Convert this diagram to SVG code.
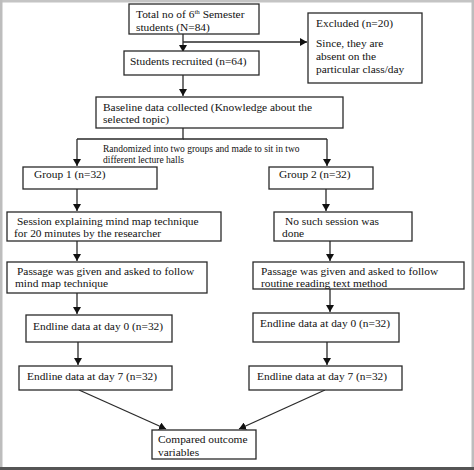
<svg xmlns="http://www.w3.org/2000/svg" width="474" height="470" viewBox="0 0 474 470">
<defs>
<marker id="ah" markerWidth="8" markerHeight="8" refX="7" refY="4" orient="auto" markerUnits="userSpaceOnUse">
<path d="M0,0 L7,4 L0,8 Z" fill="#111"/>
</marker>
</defs>
<style>
.box{fill:#fff;stroke:#2a2a2a;stroke-width:1.3}
.t{font-family:"Liberation Serif","Times New Roman",serif;font-size:11.4px;fill:#111}
.s{font-family:"Liberation Serif","Times New Roman",serif;font-size:9.5px;fill:#111}
.c{fill:none;stroke:#2a2a2a;stroke-width:1.3}
</style>
<rect x="0" y="0" width="474" height="470" fill="#fff"/>
<rect x="0" y="0" width="474" height="2.5" fill="#c4c4c4"/>
<rect x="0" y="0" width="2.5" height="470" fill="#bdbdbd"/>
<rect x="471.5" y="0" width="2.5" height="470" fill="#bdbdbd"/>
<rect x="0" y="467" width="474" height="3" fill="#555"/>

<g id="connectors">
<line class="c" x1="183" y1="34" x2="183" y2="52" marker-end="url(#ah)"/>
<line class="c" x1="183" y1="42" x2="307" y2="42" marker-end="url(#ah)"/>
<line class="c" x1="183" y1="75" x2="183" y2="96" marker-end="url(#ah)"/>
<polyline class="c" points="183,128 183,139 77,139"/>
<line class="c" x1="183" y1="139" x2="327" y2="139"/>
<line class="c" x1="77" y1="139" x2="77" y2="166" marker-end="url(#ah)"/>
<line class="c" x1="327" y1="139" x2="327" y2="166" marker-end="url(#ah)"/>
<line class="c" x1="77" y1="189" x2="77" y2="211" marker-end="url(#ah)"/>
<line class="c" x1="326" y1="189" x2="326" y2="211" marker-end="url(#ah)"/>
<line class="c" x1="77" y1="241" x2="77" y2="261" marker-end="url(#ah)"/>
<line class="c" x1="330" y1="241" x2="330" y2="261" marker-end="url(#ah)"/>
<line class="c" x1="77" y1="293" x2="77" y2="314" marker-end="url(#ah)"/>
<line class="c" x1="330" y1="289" x2="330" y2="312" marker-end="url(#ah)"/>
<line class="c" x1="78" y1="342" x2="78" y2="365" marker-end="url(#ah)"/>
<line class="c" x1="327" y1="342" x2="327" y2="365" marker-end="url(#ah)"/>
<line class="c" x1="79" y1="390" x2="166" y2="429" marker-end="url(#ah)"/>
<line class="c" x1="325" y1="390" x2="239" y2="429" marker-end="url(#ah)"/>
</g>

<g id="n-total">
<rect class="box" x="129" y="4" width="130" height="30"/>
<text class="t" x="136" y="18">Total no of 6<tspan font-size="7" dy="-4">th</tspan><tspan dy="4"> Semester</tspan></text>
<text class="t" x="136" y="31">students (N=84)</text>
</g>
<g id="n-excluded">
<rect class="box" x="308" y="13" width="114" height="70"/>
<text class="t" x="316" y="27">Excluded (n=20)</text>
<text class="t" x="316" y="47">Since, they are</text>
<text class="t" x="316" y="60">absent on the</text>
<text class="t" x="316" y="73">particular class/day</text>
</g>
<g id="n-recruited">
<rect class="box" x="124" y="51" width="135" height="24"/>
<text class="t" x="130" y="65">Students recruited (n=64)</text>
</g>
<g id="n-baseline">
<rect class="box" x="96" y="97" width="247" height="31"/>
<text class="t" x="103" y="111">Baseline data collected (Knowledge about the</text>
<text class="t" x="103" y="123">selected topic)</text>
</g>
<g id="n-randomized">
<text class="s" x="103" y="152">Randomized into two groups and made to sit in two</text>
<text class="s" x="103" y="163">different lecture halls</text>
</g>
<g id="n-group1">
<rect class="box" x="23" y="167" width="134" height="22"/>
<text class="t" x="34" y="178">Group 1 (n=32)</text>
</g>
<g id="n-group2">
<rect class="box" x="269" y="167" width="104" height="22"/>
<text class="t" x="279" y="178">Group 2 (n=32)</text>
</g>
<g id="n-session1">
<rect class="box" x="7" y="212" width="214" height="29"/>
<text class="t" x="17" y="225">Session explaining mind map technique</text>
<text class="t" x="14" y="237">for 20 minutes by the researcher</text>
</g>
<g id="n-session2">
<rect class="box" x="274" y="212" width="138" height="29"/>
<text class="t" x="285" y="225">No such session was</text>
<text class="t" x="282" y="237">done</text>
</g>
<g id="n-passage1">
<rect class="box" x="7" y="262" width="200" height="31"/>
<text class="t" x="17" y="275">Passage was given and asked to follow</text>
<text class="t" x="15" y="287">mind map technique</text>
</g>
<g id="n-passage2">
<rect class="box" x="253" y="262" width="211" height="27"/>
<text class="t" x="261" y="275">Passage was given and asked to follow</text>
<text class="t" x="261" y="287">routine reading text method</text>
</g>
<g id="n-end0-1">
<rect class="box" x="26" y="315" width="146" height="27"/>
<text class="t" x="33" y="330">Endline data at day 0 (n=32)</text>
</g>
<g id="n-end0-2">
<rect class="box" x="253" y="313" width="146" height="29"/>
<text class="t" x="260" y="327">Endline data at day 0 (n=32)</text>
</g>
<g id="n-end7-1">
<rect class="box" x="19" y="366" width="153" height="24"/>
<text class="t" x="27" y="380">Endline data at day 7 (n=32)</text>
</g>
<g id="n-end7-2">
<rect class="box" x="249" y="366" width="153" height="24"/>
<text class="t" x="257" y="380">Endline data at day 7 (n=32)</text>
</g>
<g id="n-compared">
<rect class="box" x="152" y="430" width="104" height="29"/>
<text class="t" x="158" y="443">Compared outcome</text>
<text class="t" x="158" y="456">variables</text>
</g>
</svg>
